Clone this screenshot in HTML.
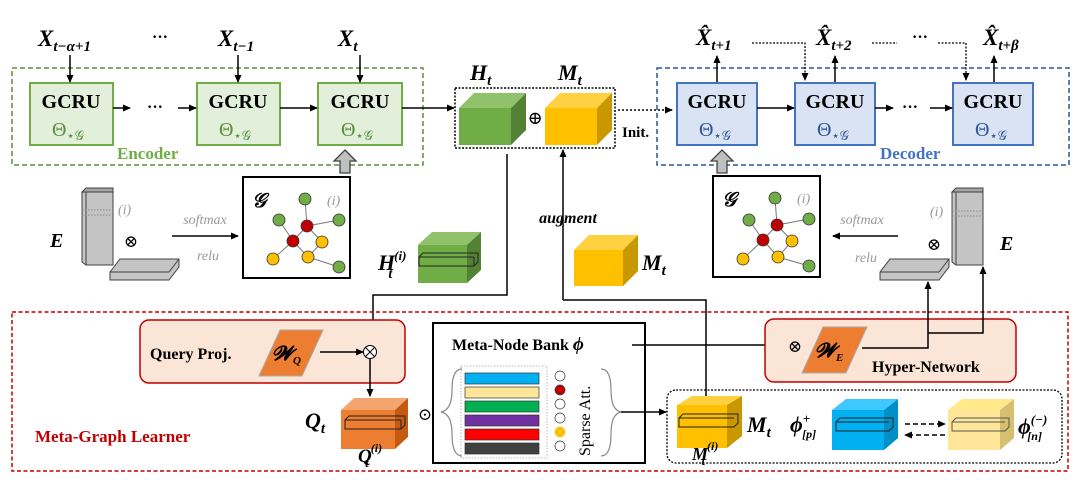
<!DOCTYPE html>
<html><head><meta charset="utf-8"><style>
html,body{margin:0;padding:0;background:#fff}
svg{display:block}
text{font-family:"Liberation Serif","DejaVu Serif",serif}
</style></head><body>
<svg width="1080" height="484" viewBox="0 0 1080 484" xmlns="http://www.w3.org/2000/svg">
<defs>
<marker id="a" markerWidth="8" markerHeight="8" refX="7" refY="4" orient="auto" markerUnits="userSpaceOnUse"><path d="M0,0.5 L8,4 L0,7.5 Z" fill="#000"/></marker>
</defs>

<!-- Encoder -->
<rect x="12" y="68" width="411" height="97" fill="none" stroke="#5a8f3a" stroke-width="1.5" stroke-dasharray="5,3"/>
<rect x="30" y="83" width="83" height="62" fill="#e2efda" stroke="#70ad47" stroke-width="2"/>
<rect x="197" y="83" width="83" height="62" fill="#e2efda" stroke="#70ad47" stroke-width="2"/>
<rect x="318" y="83" width="84" height="62" fill="#e2efda" stroke="#70ad47" stroke-width="2"/>
<g font-size="20" font-weight="bold">
<text x="71" y="108" text-anchor="middle">GCRU</text>
<text x="238" y="108" text-anchor="middle">GCRU</text>
<text x="360" y="108" text-anchor="middle">GCRU</text>
</g>
<g fill="#5a8f3a" font-size="20">
<text x="52" y="136">Θ<tspan font-size="13" dy="4">⋆𝒢</tspan></text>
<text x="219" y="136">Θ<tspan font-size="13" dy="4">⋆𝒢</tspan></text>
<text x="341" y="136">Θ<tspan font-size="13" dy="4">⋆𝒢</tspan></text>
</g>
<text x="117" y="159" fill="#70ad47" font-size="17" font-weight="bold">Encoder</text>
<g font-size="23" font-weight="bold" font-style="italic">
<text x="38" y="46">X<tspan font-size="15" dy="5">t−α+1</tspan></text>
<text x="218" y="46">X<tspan font-size="15" dy="5">t−1</tspan></text>
<text x="338" y="46">X<tspan font-size="15" dy="5">t</tspan></text>
</g>
<text x="160" y="42" font-size="16" font-weight="bold" text-anchor="middle">···</text>
<g stroke="#000" stroke-width="1.5" marker-end="url(#a)">
<line x1="70" y1="55" x2="70" y2="82"/>
<line x1="238" y1="55" x2="238" y2="82"/>
<line x1="360" y1="55" x2="360" y2="82"/>
<line x1="113" y1="108" x2="130" y2="108"/>
<line x1="178" y1="108" x2="196" y2="108"/>
<line x1="280" y1="108" x2="317" y2="108"/>
<line x1="402" y1="108" x2="454" y2="108"/>
</g>
<text x="155" y="112" font-size="16" font-weight="bold" text-anchor="middle">···</text>

<!-- H_t M_t -->
<rect x="455" y="88" width="160" height="60" fill="none" stroke="#000" stroke-width="1.5" stroke-dasharray="2,1.5"/>
<polygon points="459,108 474,93 526,93 511,108" fill="#8fc26a"/>
<rect x="459" y="108" width="52" height="37" fill="#70ad47"/>
<polygon points="511,108 526,93 526,130 511,145" fill="#548235"/>
<polygon points="545,108 560,93 612,93 597,108" fill="#ffd040"/>
<rect x="545" y="108" width="52" height="37" fill="#ffc000"/>
<polygon points="597,108 612,93 612,130 597,145" fill="#c99700"/>
<text x="535" y="124" font-size="18" text-anchor="middle">⊕</text>
<g font-size="22" font-weight="bold" font-style="italic">
<text x="470" y="80">H<tspan font-size="15" dy="5">t</tspan></text>
<text x="558" y="80">M<tspan font-size="15" dy="5">t</tspan></text>
</g>
<line x1="618" y1="110" x2="672" y2="110" stroke="#000" stroke-width="1.5" stroke-dasharray="2,2" marker-end="url(#a)"/>
<text x="622" y="137" font-size="15" font-weight="bold">Init.</text>

<!-- Decoder -->
<rect x="657" y="68" width="412" height="97" fill="none" stroke="#2f5597" stroke-width="1.5" stroke-dasharray="5,3"/>
<rect x="677" y="83" width="80" height="62" fill="#dae3f3" stroke="#4472c4" stroke-width="2"/>
<rect x="795" y="83" width="80" height="62" fill="#dae3f3" stroke="#4472c4" stroke-width="2"/>
<rect x="953" y="83" width="80" height="62" fill="#dae3f3" stroke="#4472c4" stroke-width="2"/>
<g font-size="20" font-weight="bold">
<text x="717" y="108" text-anchor="middle">GCRU</text>
<text x="835" y="108" text-anchor="middle">GCRU</text>
<text x="993" y="108" text-anchor="middle">GCRU</text>
</g>
<g fill="#2f5597" font-size="20">
<text x="699" y="136">Θ<tspan font-size="13" dy="4">⋆𝒢</tspan></text>
<text x="817" y="136">Θ<tspan font-size="13" dy="4">⋆𝒢</tspan></text>
<text x="975" y="136">Θ<tspan font-size="13" dy="4">⋆𝒢</tspan></text>
</g>
<text x="880" y="159" fill="#4472c4" font-size="17" font-weight="bold">Decoder</text>
<g font-size="23" font-weight="bold" font-style="italic">
<text x="696" y="45">X̂<tspan font-size="15" dy="5">t+1</tspan></text>
<text x="816" y="45">X̂<tspan font-size="15" dy="5">t+2</tspan></text>
<text x="983" y="45">X̂<tspan font-size="15" dy="5">t+β</tspan></text>
</g>
<text x="920" y="42" font-size="16" font-weight="bold" text-anchor="middle">···</text>
<g stroke="#000" stroke-width="1.5" marker-end="url(#a)">
<line x1="717" y1="82" x2="717" y2="56"/>
<line x1="835" y1="82" x2="835" y2="56"/>
<line x1="994" y1="82" x2="994" y2="56"/>
<line x1="757" y1="108" x2="794" y2="108"/>
<line x1="875" y1="108" x2="893" y2="108"/>
<line x1="930" y1="108" x2="952" y2="108"/>
</g>
<text x="910" y="112" font-size="16" font-weight="bold" text-anchor="middle">···</text>
<g stroke="#000" stroke-width="1.3" stroke-dasharray="2,1.5" fill="none">
<polyline points="752,43 805,43 805,80" marker-end="url(#a)"/>
<line x1="872" y1="43" x2="897" y2="43"/>
<polyline points="938,43 966,43 966,80" marker-end="url(#a)"/>
</g>

<!-- grey up arrows -->
<polygon points="345,150 356,161 350,161 350,173 340,173 340,161 334,161" fill="#bfbfbf" stroke="#404040" stroke-width="1.3"/>
<polygon points="722,150 733,161 727,161 727,173 717,173 717,161 711,161" fill="#bfbfbf" stroke="#404040" stroke-width="1.3"/>

<!-- graph boxes -->
<rect x="243" y="177" width="107" height="101" fill="#fff" stroke="#000" stroke-width="2"/>
<rect x="713" y="176" width="107" height="101" fill="#fff" stroke="#000" stroke-width="2"/>
<g stroke="#777" stroke-width="1">
<path d="M305,199 L307,226 M279,220 L293,241 M307,226 L339,220 M307,226 L293,241 M293,241 L273,259 M293,241 L308,257 M307,226 L322,242 M322,242 L308,257 M308,257 L339,267"/>
<path d="M775,198 L777,225 M749,220 L763,240 M777,225 L809,219 M777,225 L763,240 M763,240 L743,259 M763,240 L778,257 M777,225 L792,241 M792,241 L778,257 M778,257 L809,266"/>
</g>
<g stroke="#333" stroke-width="0.8">
<circle cx="305" cy="199" r="6" fill="#70ad47"/><circle cx="279" cy="220" r="6" fill="#70ad47"/><circle cx="339" cy="220" r="6" fill="#70ad47"/><circle cx="339" cy="267" r="6" fill="#70ad47"/>
<circle cx="307" cy="226" r="6" fill="#c00000"/><circle cx="293" cy="241" r="6" fill="#c00000"/>
<circle cx="322" cy="242" r="6" fill="#ffc000"/><circle cx="308" cy="257" r="6" fill="#ffc000"/><circle cx="273" cy="259" r="6" fill="#ffc000"/>
<circle cx="775" cy="198" r="6" fill="#70ad47"/><circle cx="749" cy="220" r="6" fill="#70ad47"/><circle cx="809" cy="219" r="6" fill="#70ad47"/><circle cx="809" cy="266" r="6" fill="#70ad47"/>
<circle cx="777" cy="225" r="6" fill="#c00000"/><circle cx="763" cy="240" r="6" fill="#c00000"/>
<circle cx="792" cy="241" r="6" fill="#ffc000"/><circle cx="778" cy="257" r="6" fill="#ffc000"/><circle cx="743" cy="259" r="6" fill="#ffc000"/>
</g>
<g font-size="20" font-weight="bold" font-style="italic">
<text x="252" y="207">𝒢</text><text x="722" y="206">𝒢</text>
</g>
<g font-size="14" font-style="italic" fill="#999">
<text x="327" y="205">(i)</text><text x="797" y="203">(i)</text>
<text x="118" y="214">(i)</text><text x="930" y="216">(i)</text>
</g>

<!-- E left -->
<text x="50" y="247" font-size="20" font-weight="bold" font-style="italic">E</text>
<polygon points="82,192 86,188 113,188 113,192" fill="#a6a6a6" stroke="#404040"/>
<polygon points="82,192 113,192 113,265 86,265 82,262" fill="#c4c4c4" stroke="#404040"/>
<line x1="86" y1="192" x2="86" y2="265" stroke="#404040"/>
<line x1="82" y1="210" x2="113" y2="210" stroke="#888" stroke-dasharray="1.5,1.5"/>
<line x1="82" y1="215" x2="113" y2="215" stroke="#888" stroke-dasharray="1.5,1.5"/>
<polygon points="110,272 120,259 179,259 179,267 169,280 110,280" fill="#c4c4c4" stroke="#404040"/>
<line x1="110" y1="272" x2="169" y2="272" stroke="#404040"/><line x1="169" y1="272" x2="179" y2="259" stroke="#404040"/>
<text x="131" y="247" font-size="17" text-anchor="middle">⊗</text>
<line x1="172" y1="236" x2="238" y2="236" stroke="#000" stroke-width="1.5" marker-end="url(#a)"/>
<text x="205" y="224" font-size="14" font-style="italic" fill="#999" text-anchor="middle">softmax</text>
<text x="208" y="260" font-size="14" font-style="italic" fill="#999" text-anchor="middle">relu</text>

<!-- E right -->
<text x="1000" y="250" font-size="20" font-weight="bold" font-style="italic">E</text>
<polygon points="952,192 956,188 983,188 983,192" fill="#a6a6a6" stroke="#404040"/>
<polygon points="952,192 983,192 983,265 956,265 952,262" fill="#c4c4c4" stroke="#404040"/>
<line x1="956" y1="192" x2="956" y2="265" stroke="#404040"/>
<line x1="952" y1="211" x2="983" y2="211" stroke="#888" stroke-dasharray="1.5,1.5"/>
<line x1="952" y1="216" x2="983" y2="216" stroke="#888" stroke-dasharray="1.5,1.5"/>
<polygon points="880,272 890,259 949,259 949,267 939,280 880,280" fill="#c4c4c4" stroke="#404040"/>
<line x1="880" y1="272" x2="939" y2="272" stroke="#404040"/><line x1="939" y1="272" x2="949" y2="259" stroke="#404040"/>
<text x="934" y="250" font-size="17" text-anchor="middle">⊗</text>
<line x1="898" y1="236" x2="833" y2="236" stroke="#000" stroke-width="1.5" marker-end="url(#a)"/>
<text x="862" y="224" font-size="14" font-style="italic" fill="#999" text-anchor="middle">softmax</text>
<text x="866" y="262" font-size="14" font-style="italic" fill="#999" text-anchor="middle">relu</text>

<!-- H_t^(i) -->
<text x="378" y="270" font-size="22" font-weight="bold" font-style="italic">H<tspan font-size="13" dx="-1" dy="-10">(i)</tspan><tspan font-size="14" dx="-18" dy="18">t</tspan></text>
<polygon points="418,245 432,232 481,232 467,245" fill="#8fc26a"/>
<rect x="418" y="245" width="49" height="38" fill="#70ad47"/>
<polygon points="467,245 481,232 481,270 467,283" fill="#548235"/>
<polygon points="419,257 423,253 478,253 478,262 474,266 419,266" fill="none" stroke="#222" stroke-width="1"/>
<line x1="419" y1="257" x2="474" y2="257" stroke="#222"/><line x1="474" y1="257" x2="474" y2="266" stroke="#222"/>

<!-- augment -->
<text x="568" y="223" font-size="16" font-weight="bold" font-style="italic" text-anchor="middle">augment</text>
<polygon points="574,250 589,235 638,235 623,250" fill="#ffd040"/>
<rect x="574" y="250" width="49" height="36" fill="#ffc000"/>
<polygon points="623,250 638,235 638,271 623,286" fill="#c99700"/>
<text x="642" y="270" font-size="22" font-weight="bold" font-style="italic">M<tspan font-size="15" dy="5">t</tspan></text>

<!-- connecting lines -->
<polyline points="507,154 507,295 373,295 373,343" fill="none" stroke="#000" stroke-width="1.5" marker-end="url(#a)"/>
<line x1="563" y1="300" x2="563" y2="150" stroke="#000" stroke-width="1.5" marker-end="url(#a)"/>
<polyline points="563,300 706,300 706,398" fill="none" stroke="#000" stroke-width="1.5"/>

<!-- Meta-graph learner -->
<rect x="12" y="312" width="1056" height="159" fill="none" stroke="#c00000" stroke-width="1.5" stroke-dasharray="4,2.5"/>
<text x="35" y="442" font-size="17" fill="#c00000" font-weight="bold">Meta-Graph Learner</text>

<rect x="140" y="320" width="265" height="63" rx="9" fill="#fbe5d6" stroke="#c00000" stroke-width="1.5"/>
<text x="150" y="359" font-size="16" font-weight="bold">Query Proj.</text>
<polygon points="259,376 280,330 323,330 302,376" fill="#ed7d31" stroke="#aaa"/>
<text x="272" y="360" font-size="20" font-weight="bold" font-style="italic">𝓦<tspan font-size="11" dy="4">Q</tspan></text>
<line x1="320" y1="352" x2="363" y2="352" stroke="#000" stroke-width="1.5" marker-end="url(#a)"/>
<circle cx="370" cy="352" r="6.5" fill="#fff" stroke="#000" stroke-width="1"/>
<path d="M365.4,347.4 L374.6,356.6 M374.6,347.4 L365.4,356.6" stroke="#000" stroke-width="1"/>
<line x1="370" y1="359" x2="370" y2="396" stroke="#000" stroke-width="1.5" marker-end="url(#a)"/>

<polygon points="341,410 354,398 408,398 395,410" fill="#f4a46e"/>
<rect x="341" y="410" width="54" height="39" fill="#ed7d31"/>
<polygon points="395,410 408,398 408,437 395,449" fill="#c55a11"/>
<polygon points="345,420 349,416 405,416 405,425 401,429 345,429" fill="none" stroke="#222"/>
<line x1="345" y1="420" x2="401" y2="420" stroke="#222"/><line x1="401" y1="420" x2="401" y2="429" stroke="#222"/>
<text x="305" y="428" font-size="22" font-weight="bold" font-style="italic">Q<tspan font-size="15" dy="5">t</tspan></text>
<text x="358" y="462" font-size="19" font-weight="bold" font-style="italic">Q<tspan font-size="12" dx="-1" dy="-10">(i)</tspan><tspan font-size="13" dx="-17" dy="15">t</tspan></text>
<text x="425" y="420" font-size="17" text-anchor="middle">⊙</text>

<!-- Meta node bank -->
<rect x="433" y="323" width="212" height="140" fill="#fff" stroke="#000" stroke-width="2"/>
<text x="452" y="350" font-size="16" font-weight="bold">Meta-Node Bank <tspan font-style="italic" font-size="19">ϕ</tspan></text>
<rect x="461" y="366" width="86" height="92" fill="none" stroke="#bbb" stroke-dasharray="1.5,1.5"/>
<g stroke="#333" stroke-width="0.7">
<rect x="465" y="373" width="74" height="11" fill="#00b0f0"/><rect x="465" y="387" width="74" height="11" fill="#ffe699"/>
<rect x="465" y="401" width="74" height="11" fill="#00b050"/><rect x="465" y="415" width="74" height="11" fill="#7030a0"/>
<rect x="465" y="429" width="74" height="11" fill="#ff0000"/><rect x="465" y="443" width="74" height="11" fill="#404040"/>
<circle cx="560" cy="376" r="5" fill="#fff"/><circle cx="560" cy="390" r="5" fill="#c00000"/><circle cx="560" cy="404" r="5" fill="#fff"/>
<circle cx="560" cy="418" r="5" fill="#fff"/><circle cx="560" cy="432" r="5" fill="#ffc000" stroke="#ffc000"/><circle cx="560" cy="446" r="5" fill="#fff"/>
</g>
<text transform="translate(590,456) rotate(-90)" font-size="16">Sparse Att.</text>
<path d="M462,369 Q452,369 452,390 Q452,410 441,412 Q452,414 452,434 Q452,456 462,456" fill="none" stroke="#888" stroke-width="1.2"/>
<path d="M601,369 Q611,369 611,390 Q611,410 621,412 Q611,414 611,434 Q611,456 601,456" fill="none" stroke="#888" stroke-width="1.2"/>
<line x1="621" y1="412" x2="666" y2="412" stroke="#000" stroke-width="1.5" marker-end="url(#a)"/>
<line x1="632" y1="345" x2="785" y2="345" stroke="#000" stroke-width="1.5" marker-end="url(#a)"/>

<!-- Hyper-network -->
<rect x="765" y="319" width="251" height="63" rx="9" fill="#fbe5d6" stroke="#c00000" stroke-width="1.5"/>
<text x="795" y="352" font-size="17" text-anchor="middle">⊗</text>
<polygon points="802,373 823,327 867,327 846,373" fill="#ed7d31" stroke="#aaa"/>
<text x="815" y="357" font-size="20" font-weight="bold" font-style="italic">𝓦<tspan font-size="11" dy="4">E</tspan></text>
<text x="872" y="372" font-size="16" font-weight="bold">Hyper-Network</text>
<polyline points="862,348 928,348 928,282" fill="none" stroke="#000" stroke-width="1.5" marker-end="url(#a)"/>
<polyline points="928,333 983,333 983,267" fill="none" stroke="#000" stroke-width="1.5" marker-end="url(#a)"/>

<!-- bottom dotted box -->
<rect x="667" y="390" width="395" height="73" rx="9" fill="none" stroke="#000" stroke-width="1.3" stroke-dasharray="2,1.5"/>
<polygon points="677,405 692,396 742,396 727,405" fill="#ffd040"/>
<rect x="677" y="405" width="50" height="43" fill="#ffc000"/>
<polygon points="727,405 742,396 742,436 727,448" fill="#c99700"/>
<polygon points="679,418 683,414 738,414 738,423 734,427 679,427" fill="none" stroke="#222"/>
<line x1="679" y1="418" x2="734" y2="418" stroke="#222"/>
<text x="747" y="432" font-size="22" font-weight="bold" font-style="italic">M<tspan font-size="15" dy="5">t</tspan></text>
<text x="692" y="460" font-size="18" font-weight="bold" font-style="italic">M<tspan font-size="12" dx="-1" dy="-10">(i)</tspan><tspan font-size="13" dx="-17" dy="15">t</tspan></text>
<text x="790" y="432" font-size="22" font-weight="bold" font-style="italic">ϕ<tspan font-size="13" dy="-9">+</tspan><tspan font-size="12" dx="-8" dy="15">[p]</tspan></text>
<polygon points="832,410 846,399 898,399 884,410" fill="#3fc8ff"/>
<rect x="832" y="410" width="52" height="40" fill="#00b0f0"/>
<polygon points="884,410 898,399 898,438 884,450" fill="#0090c8"/>
<polygon points="836,422 840,418 893,418 893,427 889,431 836,431" fill="none" stroke="#222"/>
<line x1="836" y1="422" x2="889" y2="422" stroke="#222"/>
<line x1="905" y1="424" x2="945" y2="424" stroke="#000" stroke-width="1.5" stroke-dasharray="5,3" marker-end="url(#a)"/>
<line x1="945" y1="435" x2="905" y2="435" stroke="#000" stroke-width="1.5" stroke-dasharray="5,3" marker-end="url(#a)"/>
<polygon points="948,410 962,399 1014,399 1000,410" fill="#ffe98a"/>
<rect x="948" y="410" width="52" height="40" fill="#ffe699"/>
<polygon points="1000,410 1014,399 1014,438 1000,450" fill="#d6c070"/>
<polygon points="952,422 956,418 1009,418 1009,427 1005,431 952,431" fill="none" stroke="#555"/>
<line x1="952" y1="422" x2="1005" y2="422" stroke="#555"/>
<text x="1018" y="434" font-size="22" font-weight="bold" font-style="italic">ϕ<tspan font-size="13" dy="-10">(−)</tspan><tspan font-size="12" dx="-20" dy="16">[n]</tspan></text>
</svg>
</body></html>
